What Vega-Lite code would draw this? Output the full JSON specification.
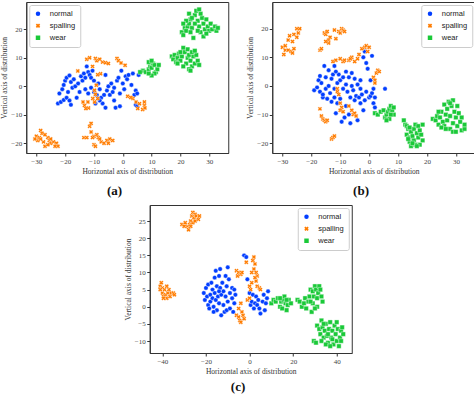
{
"$schema": "https://vega.github.io/schema/vega-lite/v6.json",
"padding": {"left": 0, "top": 1, "right": 0, "bottom": 0},
"config": {
 "view": {"stroke": "#333", "strokeWidth": 1},
 "axis": {"grid": false, "domainColor": "#333", "tickColor": "#333", "tickSize": 3, "labelFont": "Liberation Serif", "labelFontSize": 7, "labelColor": "#444", "labelPadding": 1.5, "titleFont": "Liberation Serif", "titleFontSize": 7.5, "titleFontWeight": "normal", "titleColor": "#333"},
 "axisX": {"titlePadding": 3},
 "axisY": {"titlePadding": 2},
 "legend": {"labelFont": "Liberation Sans", "labelFontSize": 7.5, "labelColor": "#222", "strokeColor": "#ccc", "fillColor": "white", "padding": 5, "cornerRadius": 2, "offset": 3, "symbolSize": 20, "symbolStrokeWidth": 0, "rowPadding": 3, "labelOffset": 8, "title": null},
 "title": {"font": "Liberation Serif", "fontSize": 13, "fontWeight": "bold", "color": "#111", "orient": "bottom", "frame": "bounds", "anchor": "middle", "offset": 10}
},
"datasets": {
"a": [
{"x":-22.5,"y":-6,"c":"normal"},{"x":-21.5,"y":-5.5,"c":"normal"},{"x":-20.5,"y":-4.8,"c":"normal"},{"x":-19.5,"y":-4,"c":"normal"},{"x":-18.5,"y":-5,"c":"normal"},{"x":-18,"y":-6.5,"c":"normal"},{"x":-22,"y":-2.5,"c":"normal"},{"x":-21,"y":-1,"c":"normal"},{"x":-20.5,"y":0.5,"c":"normal"},{"x":-20,"y":2,"c":"normal"},{"x":-19.5,"y":3,"c":"normal"},{"x":-18.5,"y":3.8,"c":"normal"},{"x":-18,"y":1.5,"c":"normal"},{"x":-17.5,"y":-0.5,"c":"normal"},{"x":-19,"y":-2,"c":"normal"},{"x":-17,"y":2.5,"c":"normal"},{"x":-16.5,"y":0,"c":"normal"},{"x":-15.5,"y":1,"c":"normal"},{"x":-14.5,"y":3.5,"c":"normal"},{"x":-14,"y":2,"c":"normal"},{"x":-13.5,"y":4.5,"c":"normal"},{"x":-13,"y":3,"c":"normal"},{"x":-12.5,"y":7,"c":"normal"},{"x":-12,"y":5,"c":"normal"},{"x":-11.5,"y":4,"c":"normal"},{"x":-11,"y":3,"c":"normal"},{"x":-10.5,"y":5.5,"c":"normal"},{"x":-10,"y":2,"c":"normal"},{"x":-13,"y":-1,"c":"normal"},{"x":-12,"y":-2.5,"c":"normal"},{"x":-11,"y":-0.5,"c":"normal"},{"x":-10,"y":-2,"c":"normal"},{"x":-9,"y":-3,"c":"normal"},{"x":-8.5,"y":1,"c":"normal"},{"x":-8,"y":-1,"c":"normal"},{"x":-7.5,"y":-4,"c":"normal"},{"x":-7,"y":-6,"c":"normal"},{"x":-6.5,"y":-3,"c":"normal"},{"x":-6,"y":-7.5,"c":"normal"},{"x":-5.5,"y":-1.5,"c":"normal"},{"x":-5,"y":0,"c":"normal"},{"x":-4.5,"y":-3,"c":"normal"},{"x":-4,"y":1,"c":"normal"},{"x":-3.5,"y":-2,"c":"normal"},{"x":-3,"y":-0.5,"c":"normal"},{"x":-2.5,"y":-7.5,"c":"normal"},{"x":-2,"y":2,"c":"normal"},{"x":-1.5,"y":3,"c":"normal"},{"x":-1,"y":-2.5,"c":"normal"},{"x":-0.5,"y":5.5,"c":"normal"},{"x":0,"y":1,"c":"normal"},{"x":0.5,"y":-1,"c":"normal"},{"x":-1,"y":-7,"c":"normal"},{"x":1,"y":3.5,"c":"normal"},{"x":1.5,"y":2.5,"c":"normal"},{"x":2,"y":4,"c":"normal"},{"x":3,"y":0.5,"c":"normal"},{"x":3.5,"y":4.5,"c":"normal"},{"x":4,"y":-3,"c":"normal"},{"x":4.5,"y":-1.5,"c":"normal"},{"x":5,"y":-2.5,"c":"normal"},{"x":5.5,"y":4,"c":"normal"},{"x":4.5,"y":-6.5,"c":"normal"},{"x":5,"y":-7,"c":"normal"},{"x":-8,"y":-5,"c":"normal"},{"x":-9.5,"y":-6,"c":"normal"},{"x":-3,"y":-5,"c":"normal"},{"x":-6,"y":4,"c":"normal"},{"x":-15,"y":-2,"c":"normal"},{"x":-16,"y":-4,"c":"normal"},
{"x":-15.6,"y":5.4,"c":"spalling"},{"x":-12.5,"y":9.5,"c":"spalling"},{"x":-11.5,"y":10,"c":"spalling"},{"x":-9.5,"y":9.8,"c":"spalling"},{"x":-9,"y":9,"c":"spalling"},{"x":-8,"y":9.5,"c":"spalling"},{"x":-7,"y":8.5,"c":"spalling"},{"x":-6,"y":8.3,"c":"spalling"},{"x":-5,"y":8,"c":"spalling"},{"x":-2,"y":9.8,"c":"spalling"},{"x":-1.5,"y":9,"c":"spalling"},{"x":-0.6,"y":8.2,"c":"spalling"},{"x":0.8,"y":7.4,"c":"spalling"},{"x":-10.5,"y":7,"c":"spalling"},{"x":-7.7,"y":4.4,"c":"spalling"},{"x":-8.7,"y":4.1,"c":"spalling"},{"x":-9.2,"y":0.4,"c":"spalling"},{"x":-9.8,"y":-1.4,"c":"spalling"},{"x":-10.4,"y":-4.3,"c":"spalling"},{"x":-12.1,"y":-5.5,"c":"spalling"},{"x":-13.3,"y":-6.7,"c":"spalling"},{"x":-11.9,"y":-7.6,"c":"spalling"},{"x":-8.7,"y":-4.3,"c":"spalling"},{"x":-9.8,"y":-5.5,"c":"spalling"},{"x":-13.8,"y":-5.5,"c":"spalling"},{"x":-12.8,"y":-7.8,"c":"spalling"},{"x":-9.5,"y":-2.8,"c":"spalling"},
{"x":1.7,"y":-3.5,"c":"spalling"},{"x":3.5,"y":-4.3,"c":"spalling"},{"x":4.6,"y":-5.5,"c":"spalling"},{"x":5.8,"y":-6.1,"c":"spalling"},{"x":7.5,"y":-6.7,"c":"spalling"},{"x":6.9,"y":-8.1,"c":"spalling"},{"x":7.7,"y":-7.6,"c":"spalling"},{"x":5.2,"y":-7.8,"c":"spalling"},{"x":7.5,"y":-5.5,"c":"spalling"},{"x":2.8,"y":-3.9,"c":"spalling"},
{"x":-30,"y":-17.5,"c":"spalling"},{"x":-29.5,"y":-19,"c":"spalling"},{"x":-29,"y":-18,"c":"spalling"},{"x":-28.5,"y":-15.5,"c":"spalling"},{"x":-28,"y":-16.5,"c":"spalling"},{"x":-27.5,"y":-19.5,"c":"spalling"},{"x":-27,"y":-21,"c":"spalling"},{"x":-26,"y":-18,"c":"spalling"},{"x":-25.5,"y":-19,"c":"spalling"},{"x":-25,"y":-20,"c":"spalling"},{"x":-26,"y":-20.5,"c":"spalling"},{"x":-24,"y":-19.5,"c":"spalling"},{"x":-23,"y":-20,"c":"spalling"},{"x":-22.5,"y":-21,"c":"spalling"},{"x":-23.5,"y":-21,"c":"spalling"},{"x":-27,"y":-17,"c":"spalling"},{"x":-30.5,"y":-18.5,"c":"spalling"},{"x":-28.5,"y":-18.5,"c":"spalling"},{"x":-25,"y":-18.5,"c":"spalling"},
{"x":-13.5,"y":-18,"c":"spalling"},{"x":-12.5,"y":-18,"c":"spalling"},{"x":-11.5,"y":-14,"c":"spalling"},{"x":-11,"y":-13,"c":"spalling"},{"x":-11,"y":-16,"c":"spalling"},{"x":-10,"y":-17.5,"c":"spalling"},{"x":-9,"y":-17,"c":"spalling"},{"x":-8.5,"y":-18,"c":"spalling"},{"x":-10,"y":-20.5,"c":"spalling"},{"x":-9.5,"y":-21,"c":"spalling"},{"x":-7.5,"y":-19.5,"c":"spalling"},{"x":-6.5,"y":-20,"c":"spalling"},{"x":-5.5,"y":-19,"c":"spalling"},{"x":-4.5,"y":-18.5,"c":"spalling"},{"x":-3.5,"y":-19,"c":"spalling"},{"x":-8,"y":-18.5,"c":"spalling"},{"x":-10.5,"y":-18,"c":"spalling"},{"x":-5,"y":-20,"c":"spalling"},
{"x":7,"y":5.5,"c":"wear"},{"x":8,"y":5,"c":"wear"},{"x":9,"y":6,"c":"wear"},{"x":9.5,"y":7,"c":"wear"},{"x":10,"y":6.5,"c":"wear"},{"x":10.5,"y":8,"c":"wear"},{"x":11,"y":7.5,"c":"wear"},{"x":11.5,"y":5,"c":"wear"},{"x":12,"y":6,"c":"wear"},{"x":11,"y":4.5,"c":"wear"},{"x":10,"y":3.8,"c":"wear"},{"x":12.5,"y":7.5,"c":"wear"},{"x":9,"y":4.5,"c":"wear"},{"x":9,"y":8.5,"c":"wear"},{"x":10,"y":9,"c":"wear"},{"x":6,"y":5,"c":"wear"},
{"x":17,"y":10.5,"c":"wear"},{"x":17.5,"y":9.5,"c":"wear"},{"x":18,"y":11,"c":"wear"},{"x":18.5,"y":8.5,"c":"wear"},{"x":19,"y":10,"c":"wear"},{"x":19.5,"y":11.5,"c":"wear"},{"x":20,"y":9,"c":"wear"},{"x":20.5,"y":10.5,"c":"wear"},{"x":21,"y":13.5,"c":"wear"},{"x":21.5,"y":12,"c":"wear"},{"x":22,"y":8,"c":"wear"},{"x":22.5,"y":10,"c":"wear"},{"x":23,"y":11,"c":"wear"},{"x":23.5,"y":9,"c":"wear"},{"x":24,"y":7,"c":"wear"},{"x":24.5,"y":10.5,"c":"wear"},{"x":25,"y":8,"c":"wear"},{"x":25.5,"y":11,"c":"wear"},{"x":26,"y":9,"c":"wear"},{"x":26.5,"y":7.5,"c":"wear"},{"x":23,"y":6,"c":"wear"},{"x":21,"y":7,"c":"wear"},{"x":19,"y":8,"c":"wear"},{"x":20,"y":12,"c":"wear"},{"x":22.5,"y":13,"c":"wear"},{"x":24,"y":12,"c":"wear"},{"x":25,"y":12.5,"c":"wear"},{"x":23.5,"y":5.5,"c":"wear"},
{"x":20.5,"y":19,"c":"wear"},{"x":21,"y":18,"c":"wear"},{"x":21.5,"y":20.5,"c":"wear"},{"x":22,"y":19.5,"c":"wear"},{"x":22.5,"y":21,"c":"wear"},{"x":23,"y":22,"c":"wear"},{"x":23.5,"y":23.5,"c":"wear"},{"x":23,"y":25.5,"c":"wear"},{"x":24,"y":20.5,"c":"wear"},{"x":24.5,"y":17,"c":"wear"},{"x":25,"y":25,"c":"wear"},{"x":25.5,"y":26.5,"c":"wear"},{"x":26,"y":23,"c":"wear"},{"x":26.5,"y":21,"c":"wear"},{"x":27,"y":19,"c":"wear"},{"x":27.5,"y":24,"c":"wear"},{"x":28,"y":22,"c":"wear"},{"x":28.5,"y":20,"c":"wear"},{"x":29,"y":23.5,"c":"wear"},{"x":29.5,"y":21,"c":"wear"},{"x":30,"y":19.5,"c":"wear"},{"x":30.5,"y":22,"c":"wear"},{"x":31,"y":20,"c":"wear"},{"x":32,"y":21,"c":"wear"},{"x":24,"y":24,"c":"wear"},{"x":25,"y":22,"c":"wear"},{"x":26,"y":19.5,"c":"wear"},{"x":27,"y":25.5,"c":"wear"},{"x":22,"y":23,"c":"wear"},{"x":28,"y":17.5,"c":"wear"},{"x":29,"y":18.5,"c":"wear"},{"x":26.5,"y":27,"c":"wear"},{"x":23.5,"y":19,"c":"wear"},{"x":32.5,"y":19.5,"c":"wear"},{"x":33,"y":20.5,"c":"wear"},{"x":21,"y":22,"c":"wear"}
],
"b": [
{"x":-19,"y":-1.5,"c":"normal"},{"x":-18,"y":-0.5,"c":"normal"},{"x":-17,"y":-2,"c":"normal"},{"x":-17.5,"y":2,"c":"normal"},{"x":-16.5,"y":1,"c":"normal"},{"x":-16,"y":-4,"c":"normal"},{"x":-15.5,"y":7,"c":"normal"},{"x":-15,"y":3,"c":"normal"},{"x":-15,"y":-1,"c":"normal"},{"x":-14.5,"y":-4.5,"c":"normal"},{"x":-14,"y":5.5,"c":"normal"},{"x":-14,"y":0,"c":"normal"},{"x":-13.5,"y":-2.5,"c":"normal"},{"x":-13,"y":2.5,"c":"normal"},{"x":-13,"y":-5.5,"c":"normal"},{"x":-12.5,"y":4,"c":"normal"},{"x":-12,"y":-1,"c":"normal"},{"x":-12,"y":-4,"c":"normal"},{"x":-11.5,"y":-9.5,"c":"normal"},{"x":-11,"y":1,"c":"normal"},{"x":-11,"y":-6,"c":"normal"},{"x":-10.5,"y":4,"c":"normal"},{"x":-10,"y":2,"c":"normal"},{"x":-10,"y":-4.5,"c":"normal"},{"x":-9.5,"y":-12.5,"c":"normal"},{"x":-9,"y":3,"c":"normal"},{"x":-9,"y":-1,"c":"normal"},{"x":-8.5,"y":-11,"c":"normal"},{"x":-8,"y":5,"c":"normal"},{"x":-8,"y":0.5,"c":"normal"},{"x":-8,"y":-7,"c":"normal"},{"x":-7.5,"y":-2,"c":"normal"},{"x":-7,"y":-10,"c":"normal"},{"x":-7,"y":3,"c":"normal"},{"x":-6.5,"y":-13,"c":"normal"},{"x":-6.5,"y":-4,"c":"normal"},{"x":-6,"y":0,"c":"normal"},{"x":-6,"y":4.5,"c":"normal"},{"x":-5.5,"y":-1.5,"c":"normal"},{"x":-5,"y":-5,"c":"normal"},{"x":-5,"y":2.5,"c":"normal"},{"x":-4.5,"y":-3.5,"c":"normal"},{"x":-4,"y":0.5,"c":"normal"},{"x":-4,"y":-12,"c":"normal"},{"x":-3.5,"y":-4,"c":"normal"},{"x":-3,"y":2,"c":"normal"},{"x":-3,"y":-1,"c":"normal"},{"x":-2.5,"y":-3,"c":"normal"},{"x":-2,"y":-8.5,"c":"normal"},{"x":-2,"y":10,"c":"normal"},{"x":-1.5,"y":12,"c":"normal"},{"x":-1,"y":8,"c":"normal"},{"x":-1,"y":-2,"c":"normal"},{"x":-0.5,"y":6,"c":"normal"},{"x":0,"y":-4,"c":"normal"},{"x":0.5,"y":2,"c":"normal"},{"x":0.5,"y":-3.5,"c":"normal"},{"x":1,"y":-2.5,"c":"normal"},{"x":1.5,"y":-1,"c":"normal"},{"x":1.5,"y":-6,"c":"normal"},{"x":2,"y":-4,"c":"normal"},{"x":2,"y":-7.5,"c":"normal"},{"x":-1.5,"y":-5,"c":"normal"},{"x":-3,"y":-6,"c":"normal"},{"x":-12,"y":7,"c":"normal"},{"x":-11.5,"y":5,"c":"normal"},{"x":5.5,"y":-1,"c":"normal"},{"x":1,"y":10.5,"c":"normal"},{"x":-17,"y":3.5,"c":"normal"},{"x":-16,"y":-3,"c":"normal"},
{"x":-30,"y":13.5,"c":"spalling"},{"x":-29.5,"y":11,"c":"spalling"},{"x":-29,"y":12.5,"c":"spalling"},{"x":-28,"y":16,"c":"spalling"},{"x":-27.5,"y":17.5,"c":"spalling"},{"x":-27,"y":12,"c":"spalling"},{"x":-26.5,"y":11.5,"c":"spalling"},{"x":-26,"y":13,"c":"spalling"},{"x":-26.5,"y":15.5,"c":"spalling"},{"x":-26,"y":18,"c":"spalling"},{"x":-25,"y":20,"c":"spalling"},{"x":-24.5,"y":18.5,"c":"spalling"},{"x":-24,"y":20,"c":"spalling"},{"x":-25,"y":17,"c":"spalling"},{"x":-28,"y":12.5,"c":"spalling"},{"x":-29,"y":14,"c":"spalling"},
{"x":-17,"y":12.5,"c":"spalling"},{"x":-16.5,"y":13,"c":"spalling"},{"x":-15.5,"y":18.5,"c":"spalling"},{"x":-15,"y":18,"c":"spalling"},{"x":-14.5,"y":19,"c":"spalling"},{"x":-14,"y":16,"c":"spalling"},{"x":-14,"y":15,"c":"spalling"},{"x":-13.5,"y":17,"c":"spalling"},{"x":-12,"y":19.5,"c":"spalling"},{"x":-11.5,"y":16.5,"c":"spalling"},{"x":-10.5,"y":19,"c":"spalling"},{"x":-10,"y":18.5,"c":"spalling"},{"x":-9.5,"y":20,"c":"spalling"},{"x":-9,"y":19.5,"c":"spalling"},{"x":-8.5,"y":19,"c":"spalling"},{"x":-15,"y":15.5,"c":"spalling"},
{"x":-12.5,"y":8.5,"c":"spalling"},{"x":-11.5,"y":9,"c":"spalling"},{"x":-10,"y":9.5,"c":"spalling"},{"x":-9,"y":8.5,"c":"spalling"},{"x":-8.5,"y":9,"c":"spalling"},{"x":-7,"y":9,"c":"spalling"},{"x":-6,"y":10,"c":"spalling"},{"x":-5,"y":8.5,"c":"spalling"},{"x":-4,"y":9.5,"c":"spalling"},{"x":-3.5,"y":11,"c":"spalling"},{"x":-2.5,"y":13,"c":"spalling"},{"x":-1.5,"y":13.5,"c":"spalling"},{"x":-1,"y":14,"c":"spalling"},{"x":0,"y":13.5,"c":"spalling"},{"x":-0.5,"y":12,"c":"spalling"},{"x":-6.5,"y":9.5,"c":"spalling"},
{"x":1.5,"y":3,"c":"spalling"},{"x":2,"y":2,"c":"spalling"},{"x":2.5,"y":4.5,"c":"spalling"},{"x":3,"y":5.5,"c":"spalling"},{"x":3.5,"y":5,"c":"spalling"},{"x":2,"y":1,"c":"spalling"},
{"x":-11,"y":-1,"c":"spalling"},{"x":-11,"y":-2,"c":"spalling"},{"x":-10.5,"y":-3,"c":"spalling"},{"x":-10,"y":-6,"c":"spalling"},{"x":-9.5,"y":-7.5,"c":"spalling"},{"x":-10,"y":-8.5,"c":"spalling"},{"x":-9,"y":-9,"c":"spalling"},{"x":-7,"y":-7,"c":"spalling"},{"x":-6,"y":-8.5,"c":"spalling"},{"x":-5.5,"y":-10,"c":"spalling"},{"x":-5,"y":-9.5,"c":"spalling"},{"x":-4.5,"y":-10.5,"c":"spalling"},
{"x":-17,"y":-8,"c":"spalling"},{"x":-16.5,"y":-10.5,"c":"spalling"},{"x":-16,"y":-11.5,"c":"spalling"},{"x":-15.5,"y":-12,"c":"spalling"},{"x":-15,"y":-12.5,"c":"spalling"},{"x":-14.5,"y":-12,"c":"spalling"},
{"x":-13,"y":-18.5,"c":"spalling"},{"x":-12.5,"y":-18,"c":"spalling"},{"x":-12,"y":-17.5,"c":"spalling"},
{"x":2,"y":-9.5,"c":"wear"},{"x":3,"y":-10,"c":"wear"},{"x":4,"y":-9,"c":"wear"},{"x":5,"y":-8.5,"c":"wear"},{"x":5.5,"y":-11,"c":"wear"},{"x":6,"y":-10,"c":"wear"},{"x":6.5,"y":-9,"c":"wear"},{"x":7,"y":-8,"c":"wear"},{"x":7.5,"y":-7,"c":"wear"},{"x":8,"y":-8.5,"c":"wear"},{"x":8.5,"y":-10,"c":"wear"},{"x":7,"y":-11.5,"c":"wear"},{"x":6,"y":-12,"c":"wear"},{"x":8.5,"y":-7.5,"c":"wear"},{"x":7.5,"y":-10,"c":"wear"},
{"x":12,"y":-12,"c":"wear"},{"x":12.5,"y":-13.5,"c":"wear"},{"x":13,"y":-14,"c":"wear"},{"x":13.5,"y":-15,"c":"wear"},{"x":13,"y":-17,"c":"wear"},{"x":14,"y":-18,"c":"wear"},{"x":14.5,"y":-16,"c":"wear"},{"x":14,"y":-19.5,"c":"wear"},{"x":14.5,"y":-21,"c":"wear"},{"x":15,"y":-17.5,"c":"wear"},{"x":15.5,"y":-15,"c":"wear"},{"x":15.5,"y":-19,"c":"wear"},{"x":16,"y":-20.5,"c":"wear"},{"x":16,"y":-13.5,"c":"wear"},{"x":16.5,"y":-16.5,"c":"wear"},{"x":17,"y":-18,"c":"wear"},{"x":17.5,"y":-20.5,"c":"wear"},{"x":17,"y":-14,"c":"wear"},{"x":17.5,"y":-15.5,"c":"wear"},{"x":18,"y":-17,"c":"wear"},{"x":18.5,"y":-19,"c":"wear"},{"x":18.5,"y":-13.5,"c":"wear"},{"x":15,"y":-20,"c":"wear"},{"x":16.5,"y":-21,"c":"wear"},{"x":14,"y":-14.5,"c":"wear"},{"x":13.5,"y":-18.5,"c":"wear"},
{"x":22,"y":-11.5,"c":"wear"},{"x":23,"y":-12,"c":"wear"},{"x":23.5,"y":-10.5,"c":"wear"},{"x":24,"y":-13.5,"c":"wear"},{"x":24.5,"y":-11,"c":"wear"},{"x":25,"y":-9,"c":"wear"},{"x":25.5,"y":-12.5,"c":"wear"},{"x":26,"y":-6.5,"c":"wear"},{"x":26,"y":-14,"c":"wear"},{"x":26.5,"y":-10,"c":"wear"},{"x":27,"y":-8,"c":"wear"},{"x":27,"y":-12,"c":"wear"},{"x":27.5,"y":-5.5,"c":"wear"},{"x":28,"y":-15,"c":"wear"},{"x":28,"y":-10.5,"c":"wear"},{"x":28.5,"y":-7,"c":"wear"},{"x":29,"y":-5,"c":"wear"},{"x":29,"y":-13,"c":"wear"},{"x":29.5,"y":-9,"c":"wear"},{"x":30,"y":-11,"c":"wear"},{"x":30.5,"y":-7,"c":"wear"},{"x":30.5,"y":-14,"c":"wear"},{"x":31,"y":-9.5,"c":"wear"},{"x":31.5,"y":-12.5,"c":"wear"},{"x":32,"y":-15.5,"c":"wear"},{"x":32,"y":-11,"c":"wear"},{"x":33,"y":-15,"c":"wear"},{"x":33,"y":-13.5,"c":"wear"},{"x":29,"y":-16,"c":"wear"},{"x":25,"y":-14.5,"c":"wear"},{"x":24,"y":-9,"c":"wear"},{"x":28,"y":-6,"c":"wear"},{"x":30,"y":-16,"c":"wear"},{"x":26.5,"y":-15,"c":"wear"}
],
"c": [
{"x":-21,"y":4,"c":"normal"},{"x":-20.5,"y":2,"c":"normal"},{"x":-20,"y":5.5,"c":"normal"},{"x":-19.5,"y":3,"c":"normal"},{"x":-19,"y":0.5,"c":"normal"},{"x":-19,"y":6.5,"c":"normal"},{"x":-18.5,"y":-0.5,"c":"normal"},{"x":-18,"y":3.5,"c":"normal"},{"x":-18,"y":1.5,"c":"normal"},{"x":-17.5,"y":7,"c":"normal"},{"x":-17,"y":5,"c":"normal"},{"x":-17,"y":2.5,"c":"normal"},{"x":-16.5,"y":0,"c":"normal"},{"x":-16,"y":8.5,"c":"normal"},{"x":-16,"y":4,"c":"normal"},{"x":-15.5,"y":10.5,"c":"normal"},{"x":-15.5,"y":2,"c":"normal"},{"x":-15,"y":6,"c":"normal"},{"x":-15,"y":-1,"c":"normal"},{"x":-14.5,"y":3,"c":"normal"},{"x":-14,"y":9,"c":"normal"},{"x":-14,"y":1,"c":"normal"},{"x":-13.5,"y":5.5,"c":"normal"},{"x":-13.5,"y":11,"c":"normal"},{"x":-13,"y":3.5,"c":"normal"},{"x":-13,"y":-2.5,"c":"normal"},{"x":-12.5,"y":7,"c":"normal"},{"x":-12,"y":0.5,"c":"normal"},{"x":-12,"y":4.5,"c":"normal"},{"x":-11.5,"y":-1.5,"c":"normal"},{"x":-11,"y":3,"c":"normal"},{"x":-10.5,"y":6,"c":"normal"},{"x":-10.5,"y":-1,"c":"normal"},{"x":-10,"y":11.5,"c":"normal"},{"x":-10,"y":1.5,"c":"normal"},{"x":-9.5,"y":8,"c":"normal"},{"x":-9,"y":4,"c":"normal"},{"x":-9,"y":-0.5,"c":"normal"},{"x":-8,"y":2.5,"c":"normal"},{"x":-8,"y":5.5,"c":"normal"},{"x":-7.5,"y":-1.5,"c":"normal"},{"x":-7,"y":1,"c":"normal"},{"x":-7,"y":5,"c":"normal"},{"x":-6.5,"y":3.5,"c":"normal"},{"x":-2.5,"y":15,"c":"normal"},{"x":-1.5,"y":14.5,"c":"normal"},{"x":-1,"y":8,"c":"normal"},{"x":0,"y":4,"c":"normal"},{"x":0.5,"y":0.5,"c":"normal"},{"x":1,"y":1.5,"c":"normal"},{"x":1.5,"y":3.5,"c":"normal"},{"x":2,"y":-0.5,"c":"normal"},{"x":2.5,"y":1,"c":"normal"},{"x":3,"y":3,"c":"normal"},{"x":3.5,"y":0.5,"c":"normal"},{"x":4,"y":2,"c":"normal"},{"x":4.5,"y":-0.5,"c":"normal"},{"x":5,"y":-2,"c":"normal"},{"x":6,"y":1.5,"c":"normal"},{"x":6.5,"y":3.5,"c":"normal"},{"x":7,"y":-1,"c":"normal"},{"x":7.5,"y":1,"c":"normal"},{"x":8,"y":2.5,"c":"normal"},{"x":8.5,"y":4.5,"c":"normal"},{"x":-14,"y":4.5,"c":"normal"},{"x":-16.5,"y":-1.5,"c":"normal"},{"x":-11,"y":9,"c":"normal"},
{"x":-31,"y":24,"c":"spalling"},{"x":-29.5,"y":24.5,"c":"spalling"},{"x":-28.5,"y":23.5,"c":"spalling"},{"x":-28,"y":22.5,"c":"spalling"},{"x":-27.5,"y":24,"c":"spalling"},{"x":-27,"y":25,"c":"spalling"},{"x":-26.5,"y":26.5,"c":"spalling"},{"x":-26,"y":27.5,"c":"spalling"},{"x":-25.5,"y":26,"c":"spalling"},{"x":-25,"y":27,"c":"spalling"},{"x":-24.5,"y":26.5,"c":"spalling"},{"x":-23.5,"y":25.5,"c":"spalling"},{"x":-23,"y":26.5,"c":"spalling"},{"x":-27,"y":23.5,"c":"spalling"},{"x":-26,"y":24.5,"c":"spalling"},{"x":-25,"y":25,"c":"spalling"},{"x":-30,"y":23.5,"c":"spalling"},
{"x":-41,"y":6,"c":"spalling"},{"x":-40.5,"y":7,"c":"spalling"},{"x":-40,"y":5.5,"c":"spalling"},{"x":-40,"y":4,"c":"spalling"},{"x":-39.5,"y":3,"c":"spalling"},{"x":-39,"y":5,"c":"spalling"},{"x":-38.5,"y":3.5,"c":"spalling"},{"x":-38,"y":2.5,"c":"spalling"},{"x":-37.5,"y":4,"c":"spalling"},{"x":-37,"y":5,"c":"spalling"},{"x":-36.5,"y":3,"c":"spalling"},{"x":-36,"y":4,"c":"spalling"},{"x":-35,"y":4,"c":"spalling"},{"x":-34.5,"y":3.5,"c":"spalling"},{"x":-38,"y":6,"c":"spalling"},{"x":-39.5,"y":2.5,"c":"spalling"},{"x":-41,"y":5,"c":"spalling"},
{"x":-6,"y":10.5,"c":"spalling"},{"x":-5.5,"y":9,"c":"spalling"},{"x":-5,"y":10,"c":"spalling"},{"x":-4,"y":9.5,"c":"spalling"},{"x":-3.5,"y":10,"c":"spalling"},{"x":-1.5,"y":13,"c":"spalling"},{"x":0,"y":6,"c":"spalling"},{"x":1,"y":7,"c":"spalling"},{"x":0.5,"y":5,"c":"spalling"},{"x":1.5,"y":13.5,"c":"spalling"},{"x":2,"y":14.5,"c":"spalling"},{"x":2.5,"y":12.5,"c":"spalling"},{"x":2,"y":11,"c":"spalling"},{"x":3,"y":10,"c":"spalling"},{"x":3.5,"y":9,"c":"spalling"},{"x":3,"y":7.5,"c":"spalling"},{"x":3.5,"y":6,"c":"spalling"},{"x":4.5,"y":5.5,"c":"spalling"},{"x":5,"y":5,"c":"spalling"},{"x":-1,"y":2,"c":"spalling"},{"x":0,"y":2.5,"c":"spalling"},{"x":-4,"y":1,"c":"spalling"},{"x":-5,"y":-0.5,"c":"spalling"},{"x":-6,"y":-2.5,"c":"spalling"},{"x":-5,"y":-3,"c":"spalling"},{"x":-4.5,"y":-4,"c":"spalling"},{"x":-4,"y":-4.5,"c":"spalling"},{"x":-3,"y":-2.5,"c":"spalling"},{"x":-2.5,"y":-3.5,"c":"spalling"},{"x":-3.5,"y":-1.5,"c":"spalling"},{"x":1,"y":10,"c":"spalling"},{"x":2.5,"y":8.5,"c":"spalling"},
{"x":10,"y":1,"c":"wear"},{"x":11,"y":2,"c":"wear"},{"x":12,"y":1.5,"c":"wear"},{"x":13,"y":2.5,"c":"wear"},{"x":14,"y":0,"c":"wear"},{"x":14.5,"y":1.5,"c":"wear"},{"x":15,"y":-0.5,"c":"wear"},{"x":15.5,"y":2,"c":"wear"},{"x":16,"y":3,"c":"wear"},{"x":16.5,"y":1,"c":"wear"},{"x":17,"y":-1,"c":"wear"},{"x":17.5,"y":0.5,"c":"wear"},{"x":18,"y":2,"c":"wear"},{"x":19,"y":1,"c":"wear"},{"x":14,"y":2.5,"c":"wear"},{"x":17,"y":2,"c":"wear"},
{"x":22,"y":2,"c":"wear"},{"x":23,"y":1.5,"c":"wear"},{"x":24,"y":0,"c":"wear"},{"x":25,"y":1,"c":"wear"},{"x":25.5,"y":2.5,"c":"wear"},{"x":26,"y":-0.5,"c":"wear"},{"x":27,"y":1.5,"c":"wear"},{"x":27.5,"y":3,"c":"wear"},{"x":28,"y":5,"c":"wear"},{"x":28.5,"y":-1.5,"c":"wear"},{"x":29,"y":4.5,"c":"wear"},{"x":29.5,"y":3,"c":"wear"},{"x":30,"y":6,"c":"wear"},{"x":30.5,"y":5,"c":"wear"},{"x":31,"y":2.5,"c":"wear"},{"x":31.5,"y":4,"c":"wear"},{"x":32,"y":6,"c":"wear"},{"x":32.5,"y":5,"c":"wear"},{"x":33,"y":3,"c":"wear"},{"x":33.5,"y":1.5,"c":"wear"},{"x":31,"y":0,"c":"wear"},{"x":30,"y":-0.5,"c":"wear"},{"x":29,"y":1,"c":"wear"},{"x":28,"y":1.5,"c":"wear"},
{"x":29.5,"y":-10,"c":"wear"},{"x":30.5,"y":-10.5,"c":"wear"},{"x":31,"y":-5.5,"c":"wear"},{"x":32,"y":-6.5,"c":"wear"},{"x":32.5,"y":-8,"c":"wear"},{"x":33,"y":-4,"c":"wear"},{"x":33.5,"y":-6,"c":"wear"},{"x":34,"y":-9,"c":"wear"},{"x":34.5,"y":-7,"c":"wear"},{"x":35,"y":-5,"c":"wear"},{"x":35.5,"y":-8.5,"c":"wear"},{"x":36,"y":-10.5,"c":"wear"},{"x":36.5,"y":-6.5,"c":"wear"},{"x":37,"y":-4.5,"c":"wear"},{"x":37.5,"y":-9,"c":"wear"},{"x":38,"y":-7,"c":"wear"},{"x":38.5,"y":-11,"c":"wear"},{"x":39,"y":-5.5,"c":"wear"},{"x":39.5,"y":-8,"c":"wear"},{"x":40,"y":-10,"c":"wear"},{"x":40.5,"y":-6.5,"c":"wear"},{"x":41,"y":-11.5,"c":"wear"},{"x":41.5,"y":-9,"c":"wear"},{"x":42,"y":-7,"c":"wear"},{"x":42.5,"y":-6,"c":"wear"},{"x":33,"y":-10,"c":"wear"},{"x":35,"y":-11,"c":"wear"},{"x":37,"y":-11.5,"c":"wear"},{"x":40,"y":-4.5,"c":"wear"},{"x":38,"y":-9.5,"c":"wear"},{"x":36,"y":-8,"c":"wear"},{"x":34,"y":-5,"c":"wear"},{"x":43,"y":-8,"c":"wear"},{"x":42,"y":-10,"c":"wear"}
]
},
"vconcat": [
 {
  "hconcat": [
   {
    "width": 202, "height": 151,
    "data": {"name": "a"},
    "title": {"text": "(a)"},
    "mark": {"type": "point", "filled": true, "size": 20, "stroke": "white", "strokeWidth": 0.4, "opacity": 1},
    "encoding": {
     "x": {"field": "x", "type": "quantitative", "scale": {"domain": [-33.5, 36.6], "nice": false, "zero": false}, "axis": {"values": [-30,-20,-10,0,10,20,30], "title": "Horizontal axis of distribution"}},
     "y": {"field": "y", "type": "quantitative", "scale": {"domain": [-23.4, 29.6], "nice": false, "zero": false}, "axis": {"values": [-20,-10,0,10,20], "title": "Vertical axis of distribution"}},
     "color": {"field": "c", "type": "nominal", "scale": {"domain": ["normal","spalling","wear"], "range": ["#023eff","#ff7c00","#1ac938"]}, "legend": {"orient": "top-left", "title": null}},
     "shape": {"field": "c", "type": "nominal", "scale": {"domain": ["normal","spalling","wear"], "range": ["circle","M-1,-0.45L-0.45,-1L0,-0.55L0.45,-1L1,-0.45L0.55,0L1,0.45L0.45,1L0,0.55L-0.45,1L-1,0.45L-0.55,0Z","square"]}, "legend": {"orient": "top-left", "title": null}}
    }
   },
   {
    "width": 203, "height": 151,
    "data": {"name": "b"},
    "title": {"text": "(b)"},
    "mark": {"type": "point", "filled": true, "size": 20, "stroke": "white", "strokeWidth": 0.4, "opacity": 1},
    "encoding": {
     "x": {"field": "x", "type": "quantitative", "scale": {"domain": [-33.5, 36.7], "nice": false, "zero": false}, "axis": {"values": [-30,-20,-10,0,10,20,30], "title": "Horizontal axis of distribution"}},
     "y": {"field": "y", "type": "quantitative", "scale": {"domain": [-23.4, 29.3], "nice": false, "zero": false}, "axis": {"values": [-20,-10,0,10,20], "title": "Vertical axis of distribution"}},
     "color": {"field": "c", "type": "nominal", "scale": {"domain": ["normal","spalling","wear"], "range": ["#023eff","#ff7c00","#1ac938"]}, "legend": {"orient": "top-right", "title": null}},
     "shape": {"field": "c", "type": "nominal", "scale": {"domain": ["normal","spalling","wear"], "range": ["circle","M-1,-0.45L-0.45,-1L0,-0.55L0.45,-1L1,-0.45L0.55,0L1,0.45L0.45,1L0,0.55L-0.45,1L-1,0.45L-0.55,0Z","square"]}, "legend": {"orient": "top-right", "title": null}}
    }
   }
  ],
  "spacing": 17,
  "resolve": {"scale": {"x": "independent", "y": "independent", "color": "independent", "shape": "independent"}, "legend": {"color": "independent", "shape": "independent"}}
 },
 {
  "width": 202, "height": 148,
  "data": {"name": "c"},
  "title": {"text": "(c)", "offset": 6},
  "mark": {"type": "point", "filled": true, "size": 20, "stroke": "white", "strokeWidth": 0.4, "opacity": 1},
  "encoding": {
   "x": {"field": "x", "type": "quantitative", "scale": {"domain": [-45.8, 46.9], "nice": false, "zero": false}, "axis": {"values": [-40,-20,0,20,40], "title": "Horizontal axis of distribution"}},
   "y": {"field": "y", "type": "quantitative", "scale": {"domain": [-13.5, 29.7], "nice": false, "zero": false}, "axis": {"values": [-10,-5,0,5,10,15,20,25], "title": "Vertical axis of distribution"}},
   "color": {"field": "c", "type": "nominal", "scale": {"domain": ["normal","spalling","wear"], "range": ["#023eff","#ff7c00","#1ac938"]}, "legend": {"orient": "top-right", "title": null}},
   "shape": {"field": "c", "type": "nominal", "scale": {"domain": ["normal","spalling","wear"], "range": ["circle","M-1,-0.45L-0.45,-1L0,-0.55L0.45,-1L1,-0.45L0.55,0L1,0.45L0.45,1L0,0.55L-0.45,1L-1,0.45L-0.55,0Z","square"]}, "legend": {"orient": "top-right", "title": null}}
  }
 }
],
"spacing": 5,
"center": true,
"resolve": {"scale": {"x": "independent", "y": "independent", "color": "independent", "shape": "independent"}, "legend": {"color": "independent", "shape": "independent"}}
}
